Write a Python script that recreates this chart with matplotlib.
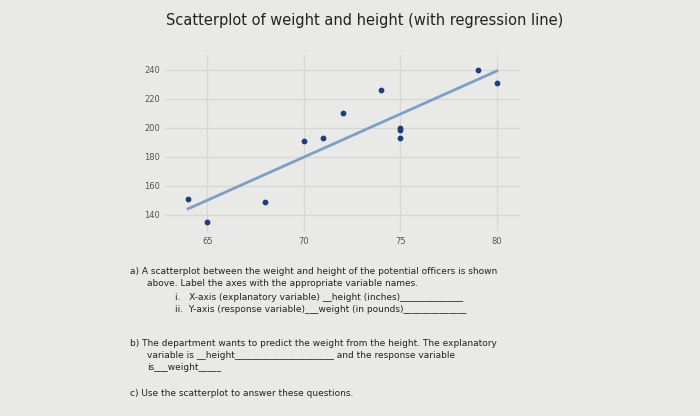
import matplotlib
matplotlib.use("Agg")
import matplotlib.pyplot as plt
import numpy as np

height = [64, 65, 68, 70, 71, 72, 74, 75, 75, 75, 79, 80]
weight = [151, 135, 149, 191, 193, 210, 226, 193, 198, 200, 240, 231]
line_x = [64, 80]
line_y = [144, 239]
x_ticks = [65, 70, 75, 80]
y_ticks = [140, 160, 180, 200, 220, 240]

W, H = 700, 416
fig = plt.figure(figsize=(7, 4.16), dpi=100)
fig.patch.set_facecolor("#e9e9e7")
ax = fig.add_axes([165 / W, 1 - 232 / H, 355 / W, 177 / H])
ax.set_facecolor("#e9e9e7")
ax.plot(line_x, line_y, color="#7d9fc4", lw=2, zorder=2)
ax.scatter(height, weight, color="#1f3f7a", s=10, zorder=3)
ax.set_xlim(62.8, 81.2)
ax.set_ylim(128, 250)
ax.set_xticks(x_ticks)
ax.set_yticks(y_ticks)
ax.grid(True, color="#d6d6d6", lw=0.8)
for s in ax.spines.values():
    s.set_visible(False)
ax.tick_params(length=0, labelsize=6, colors="#555555")

fig.text(365 / W, 1 - 20 / H, "Scatterplot of weight and height (with regression line)",
         ha="center", va="center", fontsize=10.5, color="#222222")

lines = [
    (130, 272, "a) A scatterplot between the weight and height of the potential officers is shown"),
    (147, 284, "above. Label the axes with the appropriate variable names."),
    (175, 297, "i.   X-axis (explanatory variable) __height (inches)______________"),
    (175, 309, "ii.  Y-axis (response variable)___weight (in pounds)______________"),
    (130, 343, "b) The department wants to predict the weight from the height. The explanatory"),
    (147, 355, "variable is __height______________________ and the response variable"),
    (147, 367, "is___weight_____"),
    (130, 393, "c) Use the scatterplot to answer these questions."),
]
for x, y, t in lines:
    fig.text(x / W, 1 - y / H, t, ha="left", va="center", fontsize=6.5, color="#222222")

fig.savefig("out.png", dpi=100, facecolor=fig.get_facecolor())
